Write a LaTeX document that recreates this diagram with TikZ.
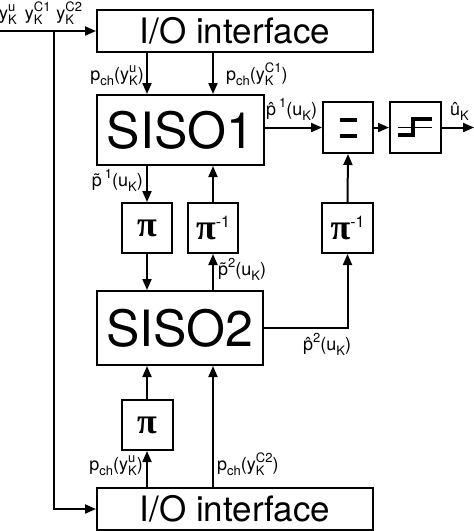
\documentclass[tikz,border=0pt]{standalone}
\usepackage{fontspec}
\setmainfont{TeX Gyre Heros}
\newfontfamily\grk{Liberation Serif}
\usetikzlibrary{arrows.meta}
\newcommand\sps[1]{\raisebox{0.42em}{\fontsize{13}{13}\selectfont #1}}
\newcommand\sbs[1]{\raisebox{-0.28em}{\fontsize{13}{13}\selectfont #1}}
\newcommand\supsub[2]{\leavevmode\setbox0=\hbox{\sps{#1}}\setbox2=\hbox{\sbs{#2}}\ifdim\wd0>\wd2 \rlap{\box2}\box0\else\rlap{\box0}\box2\fi}
\newcommand\hp{\ooalign{p\cr\hidewidth\char"02C6\hidewidth\cr}}
\newcommand\tp{\ooalign{p\cr\hidewidth\char"02DC\hidewidth\cr}}
\newcommand\pisym{{\grk\bfseries\fontsize{36}{36}\selectfont π}}
\newcommand\pinv{\pisym\raisebox{2.3ex}{\fontsize{16}{16}\selectfont -1}}
\begin{document}
\begin{tikzpicture}[x=1pt,y=-1pt,
  blk/.style={draw, line width=2pt, inner sep=0pt},
  bigtxt/.style={font=\fontsize{35}{35}\selectfont},
  hugetxt/.style={font=\fontsize{50}{50}\selectfont},
  lab/.style={inner sep=0pt, font=\fontsize{18}{18}\selectfont},
  arr/.style={line width=2pt, -{Triangle[length=11pt,width=9pt]}},
  ln/.style={line width=2pt}]
\useasboundingbox (0,0) rectangle (474,531);
% boxes
\node[blk, bigtxt, minimum width=276pt, minimum height=42pt] (io1) at (235,31) {I/O interface};
\node[blk, hugetxt, minimum width=167pt, minimum height=70pt] (siso1) at (180.5,130) {SISO1};
\node[blk, minimum width=50pt, minimum height=51pt] (eq) at (348,127.5) {};
\node[blk, minimum width=51pt, minimum height=51pt] (thr) at (415.5,127.5) {};
\node[blk, minimum width=50pt, minimum height=50pt] (pia) at (147,228) {\pisym};
\node[blk, minimum width=50pt, minimum height=50pt] (pib) at (213,228) {\pinv};
\node[blk, minimum width=51pt, minimum height=50pt] (pic) at (347.5,228) {\pinv};
\node[blk, hugetxt, minimum width=166pt, minimum height=74pt] (siso2) at (180,328) {SISO2};
\node[blk, minimum width=51pt, minimum height=50pt] (pid) at (147,425) {\pisym};
\node[blk, bigtxt, minimum width=276pt, minimum height=42pt] (io2) at (235,509) {I/O interface};
% symbols inside
\draw[line width=4pt] ([shift={(-8,-8)}]eq.center) -- ++(17,0);
\draw[line width=4pt] ([shift={(-8,8)}]eq.center) -- ++(17,0);
\draw[line width=1.6pt] ([shift={(-17.5,0)}]thr.center) -- ++(34,0);
\draw[line width=3.5pt] ([shift={(-17.5,7.5)}]thr.center) -- ++(15,0) -- ++(0,-16) -- ++(19,0);
% coordinates
\coordinate (in) at (0,31);
\coordinate (br) at (54,31);
\coordinate (out) at (474,127.5);
% connectors
\draw[arr] (in) -- (io1.west);
\draw[arr] (br) |- (io2.west);
\draw[arr] (io1.south -| pia) -- (siso1.north -| pia);
\draw[arr] (io1.south -| pib) -- (siso1.north -| pib);
\draw[arr] (siso1.east |- eq) -- (eq.west);
\draw[arr] (eq.east) -- (thr.west);
\draw[arr] (thr.east) -- (out);
\draw[arr] (siso1.south -| pia) -- (pia.north);
\draw[arr] (pib.north) -- (siso1.south -| pib);
\draw[arr] (pic.north) -- (eq.south);
\draw[arr] (pia.south) -- (siso2.north -| pia);
\draw[arr] (siso2.north -| pib) -- (pib.south);
\draw[arr] (siso2.east) -| (pic.south);
\draw[arr] (pid.north) -- (siso2.south -| pid);
\draw[arr] (io2.north -| pid) -- (pid.south);
\draw[arr] (io2.north -| pib) -- (siso2.south -| pib);
% labels
\node[lab, anchor=base west] (ly) at (-1,19) {y\supsub{u}{K}\hspace{8pt}y\supsub{C1}{K}\hspace{6pt}y\supsub{C2}{K}};
\node[lab, anchor=base west] (l2) at (226,80) {p\sbs{ch}(y\supsub{C1}{K})};
\node[lab, anchor=base east] (l1) at (144,80) {p\sbs{ch}(y\supsub{u}{K})};
\node[lab, anchor=base west] (l3) at (266,115) {\hp\,\sps{1}(u\sbs{K})};
\node[lab, anchor=base west] (l4) at (450,115) {û\sbs{K}};
\node[lab, anchor=base east] (l5) at (143,186) {\tp\,\sps{1}(u\sbs{K})};
\node[lab, anchor=base west] (l6) at (218,275) {\tp\sps{2}(u\sbs{K})};
\node[lab, anchor=base west] (l7) at (303,350) {\hp\sps{2}(u\sbs{K})};
\node[lab, anchor=base east] (l8) at (143,470) {p\sbs{ch}(y\supsub{u}{K})};
\node[lab, anchor=base west] (l9) at (217,470) {p\sbs{ch}(y\supsub{C2}{K})};
\end{tikzpicture}
\end{document}
